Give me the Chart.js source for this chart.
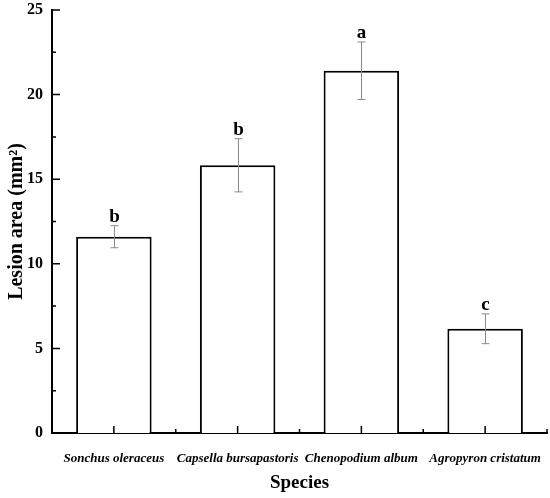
<!DOCTYPE html>
<html>
<head>
<meta charset="utf-8">
<script src="https://cdn.jsdelivr.net/npm/chart.js@4/dist/chart.umd.min.js"></script>
<style>
  html, body { margin: 0; padding: 0; background: #fff; }
  #wrap { width: 550px; height: 498px; position: relative; }
</style>
</head>
<body>
<div id="wrap"><canvas id="c"></canvas></div>
<script>
const species = ['Sonchus oleraceus', 'Capsella bursapastoris', 'Chenopodium album', 'Agropyron cristatum'];
const lesionArea = [11.6, 15.82, 21.41, 6.16];
const errorSD = [0.65, 1.57, 1.7, 0.88];
const letters = ['b', 'b', 'a', 'c'];
const yTicks = [0, 5, 10, 15, 20, 25];

const SERIF = '"Liberation Serif", "Times New Roman", serif';

const overlay = {
  id: 'overlay',
  afterDatasetsDraw(chart) {
    const ctx = chart.ctx;
    const x = chart.scales.x, y = chart.scales.y;
    ctx.save();
    ctx.strokeStyle = '#8a8a8a';
    ctx.lineWidth = 1;
    lesionArea.forEach((v, i) => {
      const cx = Math.round(x.getPixelForValue(i)) + 0.5;
      const top = y.getPixelForValue(v + errorSD[i]);
      const bot = y.getPixelForValue(v - errorSD[i]);
      ctx.beginPath();
      ctx.moveTo(cx, top); ctx.lineTo(cx, bot);
      ctx.moveTo(cx - 4, top); ctx.lineTo(cx + 4, top);
      ctx.moveTo(cx - 4, bot); ctx.lineTo(cx + 4, bot);
      ctx.stroke();
      ctx.fillStyle = '#000';
      ctx.font = 'bold 19px ' + SERIF;
      ctx.textAlign = 'center';
      ctx.textBaseline = 'alphabetic';
      ctx.fillText(letters[i], cx, top - 4);
    });
    ctx.restore();
  },
  afterDraw(chart) {
    const ctx = chart.ctx;
    const x = chart.scales.x, y = chart.scales.y;
    const area = chart.chartArea;
    ctx.save();
    ctx.strokeStyle = '#000';
    ctx.lineWidth = 1.5;
    ctx.beginPath();
    for (let v = 0; v <= 25; v += 2.5) {
      const py = y.getPixelForValue(v);
      const len = (v % 5 === 0) ? 8 : 4;
      ctx.moveTo(area.left, py); ctx.lineTo(area.left + len, py);
    }
    species.forEach((s, i) => {
      const px = x.getPixelForValue(i);
      ctx.moveTo(px, area.bottom); ctx.lineTo(px, area.bottom - 7);
      const bx = x.getPixelForValue(i + 0.5);
      ctx.moveTo(bx, area.bottom); ctx.lineTo(bx, area.bottom - 4);
    });
    ctx.stroke();
    ctx.restore();
  }
};

new Chart(document.getElementById('c'), {
  type: 'bar',
  data: {
    labels: species,
    datasets: [{
      data: lesionArea,
      backgroundColor: '#ffffff',
      borderColor: '#000000',
      borderWidth: 2,
      categoryPercentage: 1,
      barPercentage: 0.61
    }]
  },
  options: {
    responsive: true,
    maintainAspectRatio: false,
    animation: false,
    layout: { padding: { top: 10, right: 3, left: 0, bottom: 0 } },
    plugins: { legend: { display: false }, tooltip: { enabled: false } },
    scales: {
      x: {
        grid: { display: false, drawTicks: false },
        border: { display: true, color: '#000', width: 2 },
        ticks: {
          color: '#000',
          padding: 18,
          maxRotation: 0,
          autoSkip: false,
          font: { family: SERIF, size: 13, weight: 'bold', style: 'italic' }
        },
        title: {
          display: true,
          text: 'Species',
          color: '#000',
          padding: { top: 0, bottom: 4 },
          font: { family: SERIF, size: 19, weight: 'bold' }
        },
        afterFit(scale) {
          scale.height = 65;
          scale.paddingLeft = 0; scale.paddingRight = 0;
          scale.paddingTop = 0; scale.paddingBottom = 0;
        }
      },
      y: {
        min: 0,
        max: 25,
        grid: { display: false, drawTicks: false },
        border: { display: true, color: '#000', width: 2 },
        afterBuildTicks(scale) { scale.ticks = yTicks.map(v => ({ value: v })); },
        ticks: {
          color: '#000',
          padding: 9,
          font: { family: SERIF, size: 16, weight: 'bold' }
        },
        title: {
          display: true,
          text: 'Lesion area (mm²)',
          color: '#000',
          padding: { top: 5, bottom: 0 },
          font: { family: SERIF, size: 20, weight: 'bold' }
        },
        afterFit(scale) {
          scale.width = 52;
          scale.paddingLeft = 0; scale.paddingRight = 0;
          scale.paddingTop = 0; scale.paddingBottom = 0;
        }
      }
    }
  },
  plugins: [overlay]
});
</script>
</body>
</html>
